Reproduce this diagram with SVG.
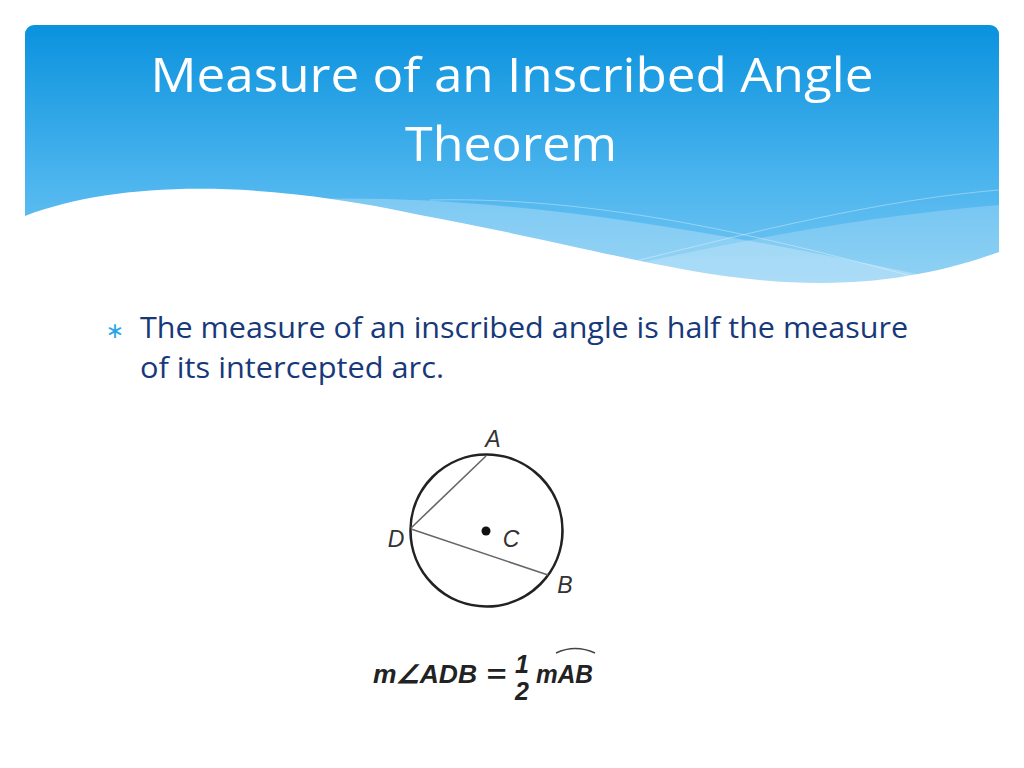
<svg xmlns="http://www.w3.org/2000/svg" width="1024" height="768" viewBox="0 0 1024 768">
<defs>
<linearGradient id="hdr" x1="0" y1="25" x2="0" y2="290" gradientUnits="userSpaceOnUse">
<stop offset="0" stop-color="#0a92de"/>
<stop offset="0.6" stop-color="#4db5ee"/>
<stop offset="1" stop-color="#78c8f3"/>
</linearGradient>
<clipPath id="hclip"><rect x="25" y="25" width="974" height="280" rx="9"/></clipPath>
<style>
.title{font-family:"Open Sans","Liberation Sans",sans-serif;font-size:48px;fill:#ffffff;text-anchor:middle}
.body{font-family:"Open Sans","Liberation Sans",sans-serif;font-size:30px;fill:#17397a}
.lbl{font-family:"Liberation Sans",Arial,sans-serif;font-style:italic;font-size:23px;fill:#333;text-anchor:middle}
.eq{font-family:"Liberation Sans",Arial,sans-serif;font-style:italic;font-weight:bold;font-size:25px;fill:#222}
.line{stroke:#666;stroke-width:1.6;fill:none}
</style>
</defs>
<rect width="1024" height="768" fill="#ffffff"/>
<g id="header">
<g clip-path="url(#hclip)">
<rect x="25" y="25" width="974" height="280" fill="url(#hdr)"/>
<path d="M250,202 C460,186 700,225 999,292 L999,305 L250,305 Z" fill="#ffffff" fill-opacity="0.25"/>
<path d="M600,272 C760,235 880,215 999,205 L999,305 L600,305 Z" fill="#ffffff" fill-opacity="0.2"/>
<path d="M430,200 C620,196 800,245 999,300" stroke="#ffffff" stroke-opacity="0.35" stroke-width="1" fill="none"/>
<path d="M620,265 C760,230 880,200 999,190" stroke="#ffffff" stroke-opacity="0.35" stroke-width="1" fill="none"/>
</g>
<path d="M25,216 C120,180 260,180 420,215 C600,248 700,283 820,283 C900,283 960,266 999,252 L1000,310 L20,310 Z" fill="#ffffff"/>
<text class="title" x="512" y="92" textLength="723" lengthAdjust="spacingAndGlyphs">Measure of an Inscribed Angle</text>
<text class="title" x="511" y="161" textLength="212" lengthAdjust="spacingAndGlyphs">Theorem</text>
</g>
<g id="bullet">
<text x="115" y="338" font-family="'DejaVu Sans',sans-serif" font-size="22" fill="#2aa4e8" text-anchor="middle">∗</text>
<text class="body" x="140" y="338" textLength="768" lengthAdjust="spacingAndGlyphs">The measure of an inscribed angle is half the measure</text>
<text class="body" x="140" y="378" textLength="304" lengthAdjust="spacingAndGlyphs">of its intercepted arc.</text>
</g>
<g id="figure">
<circle cx="486.5" cy="530.5" r="76" fill="none" stroke="#222" stroke-width="2.6"/>
<g id="connectors">
<line class="line" x1="411" y1="528" x2="486" y2="456"/>
<line class="line" x1="411" y1="529" x2="548" y2="575"/>
</g>
<circle cx="486" cy="531" r="4.5" fill="#111"/>
<text class="lbl" x="493" y="447">A</text>
<text class="lbl" x="396" y="547">D</text>
<text class="lbl" x="511" y="547">C</text>
<text class="lbl" x="565" y="593">B</text>
</g>
<g id="formula">
<text class="eq" x="373" y="683" textLength="104" lengthAdjust="spacingAndGlyphs">m∠ADB</text>
<text class="eq" x="486" y="683" font-style="normal" textLength="20" lengthAdjust="spacingAndGlyphs">=</text>
<text class="eq" x="522" y="673" font-style="normal" font-size="19" text-anchor="middle">1</text>
<text class="eq" x="522" y="700" font-style="normal" font-size="19" text-anchor="middle">2</text>
<text class="eq" x="536" y="683" textLength="57" lengthAdjust="spacingAndGlyphs">mAB</text>
<path d="M556,653 Q575,644 595,653" stroke="#444" stroke-width="1.4" fill="none"/>
</g>
</svg>
